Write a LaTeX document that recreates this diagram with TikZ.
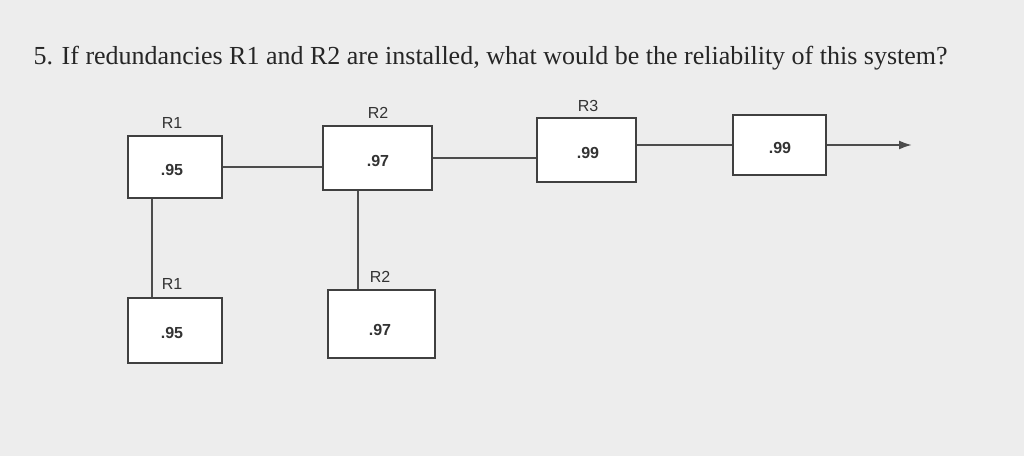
\documentclass[tikz,border=0pt]{standalone}
\usepackage{fontspec}
\setsansfont{Liberation Sans}
\setmainfont{Liberation Serif}
\usetikzlibrary{arrows.meta}
\begin{document}
\begin{tikzpicture}[x=1pt,y=-1pt,
  box/.style={draw=black!75,line width=2pt,fill=white,minimum width=94pt,minimum height=62pt,inner sep=0pt},
  lab/.style={font=\sffamily\fontsize{16}{16}\selectfont,text=black!80},
  val/.style={font=\sffamily\bfseries\fontsize{16}{16}\selectfont,text=black!80},
  wire/.style={draw=black!70,line width=2pt}]
\fill[black!7] (0,0) rectangle (1024,456);
\useasboundingbox (0,0) rectangle (1024,456);
\node[anchor=west,font=\fontsize{26}{26}\selectfont,text=black!85] (title) at (30,58) {5. If redundancies R1 and R2 are installed, what would be the reliability of this system?};
\node[box] (r1) at (175,167) {};
\node[box,minimum width=109pt,minimum height=64pt] (r2) at (377,158) {};
\node[box,minimum width=99pt,minimum height=64pt] (r3) at (586,150) {};
\node[box,minimum width=93pt,minimum height=60pt] (r4) at (779,145) {};
\node[box,minimum height=65pt] (r1b) at (175,330) {};
\node[box,minimum width=107pt,minimum height=68pt] (r2b) at (381,324) {};
\node[val] (v1) at (172,170) {.95};
\node[val] (v2) at (378,161) {.97};
\node[val] (v3) at (588,153) {.99};
\node[val] (v4) at (780,148) {.99};
\node[val] (v5) at (172,333) {.95};
\node[val] (v6) at (380,330) {.97};
\node[lab] (l1) at (172,123) {R1};
\node[lab] (l2) at (378,113) {R2};
\node[lab] (l3) at (588,106) {R3};
\node[lab] (l5) at (172,284) {R1};
\node[lab] (l6) at (380,277) {R2};
\coordinate (out) at (912,143);
\draw[wire] (r1.east) -- (r1.east -| r2.west);
\draw[wire] (r2.east) -- (r2.east -| r3.west);
\draw[wire] (r4.west -| r3.east) -- (r4.west);
\draw[wire,-{Latex[length=13pt,width=9pt]}] (r4.east) -- (r4.east -| out);
\draw[wire] ([xshift=-23pt]r1.south) -- ([xshift=-23pt]r1b.north);
\draw[wire] ([xshift=-19pt]r2.south) -- ([xshift=-23pt]r2b.north);
\end{tikzpicture}
\end{document}
